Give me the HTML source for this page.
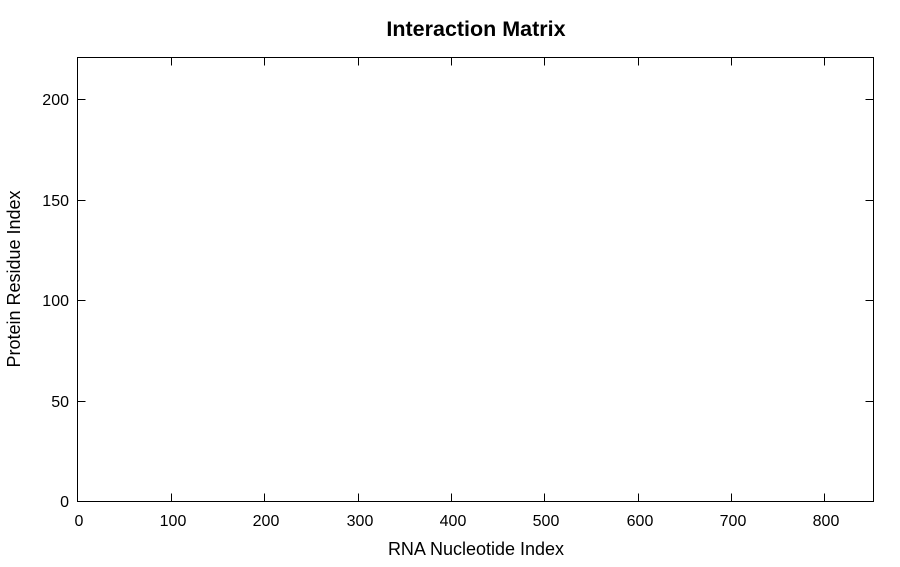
<!DOCTYPE html>
<html><head><meta charset="utf-8"><style>html,body{margin:0;padding:0;background:#fff}</style></head>
<body>
<svg width="900" height="562" xmlns="http://www.w3.org/2000/svg" font-family="Liberation Sans, sans-serif">
<rect width="900" height="562" fill="#fff"/>
<rect x="77.5" y="57.5" width="796" height="444" fill="none" stroke="#000" stroke-width="1"/>
<g stroke="#000" stroke-width="1">
<path d="M171.5 501.5v-8M171.5 57.5v8M264.5 501.5v-8M264.5 57.5v8M358.5 501.5v-8M358.5 57.5v8M451.5 501.5v-8M451.5 57.5v8M544.5 501.5v-8M544.5 57.5v8M638.5 501.5v-8M638.5 57.5v8M731.5 501.5v-8M731.5 57.5v8M824.5 501.5v-8M824.5 57.5v8"/>
<path d="M77.5 99.5h8M873.5 99.5h-8M77.5 200.5h8M873.5 200.5h-8M77.5 300.5h8M873.5 300.5h-8M77.5 401.5h8M873.5 401.5h-8"/>
</g>
<g font-size="16" fill="#000" text-anchor="middle">
<text x="79" y="526">0</text><text x="173" y="526">100</text><text x="266" y="526">200</text><text x="360" y="526">300</text><text x="453" y="526">400</text><text x="546" y="526">500</text><text x="640" y="526">600</text><text x="733" y="526">700</text><text x="826" y="526">800</text>
</g>
<g font-size="16" fill="#000" text-anchor="end">
<text x="69" y="507">0</text><text x="69" y="407">50</text><text x="69" y="306">100</text><text x="69" y="206">150</text><text x="69" y="105">200</text>
</g>
<text x="476" y="555" font-size="18" text-anchor="middle">RNA Nucleotide Index</text>
<text transform="translate(20,279) rotate(-90)" font-size="18" text-anchor="middle">Protein Residue Index</text>
<text x="476" y="36" font-size="21.5" font-weight="bold" text-anchor="middle">Interaction Matrix</text>
</svg>
</body></html>
